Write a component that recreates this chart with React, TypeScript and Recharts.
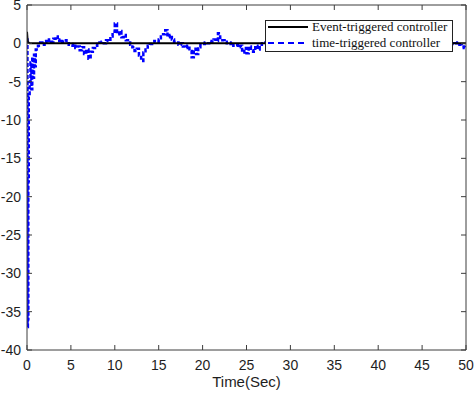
import React from 'react';
import { LineChart, Line, XAxis, YAxis, Legend } from 'recharts';

// time-triggered controller: dense start
const earlyTime = [0, 0.05, 0.1, 0.15, 0.2, 0.3, 0.4, 0.5, 0.6, 0.7, 0.8, 0.9];
const earlyValue = [0.5, -37, -36, -18, -7, -5, -2.5, -6, -1.8, -4.5, -1.5, -3];

// time-triggered controller: quarter-second samples from t = 1 s
const quarterOffsets = [0, 0.25, 0.5, 0.75];
const secondStarts = [
  1, 2, 3, 4, 5, 6, 7, 8, 9, 10, 11, 12, 13, 14, 15, 16, 17, 18, 19, 20, 21, 22, 23, 24, 25,
  26, 27, 28, 29, 30, 31, 32, 33, 34, 35, 36, 37, 38, 39, 40, 41, 42, 43, 44, 45, 46, 47, 48, 49,
];
const timeTriggeredRows = [
  [-0.8, -0.3, 0.1, -0.2],
  [0.3, 0.1, 0.5, 0.2],
  [0.6, 0.9, 0.3, 0.5],
  [0.2, 0.4, 0.0, -0.2],
  [-0.3, -0.1, -0.6, -0.4],
  [-0.9, -0.5, -1.4, -0.8],
  [-2.0, -1.1, -0.6, -0.3],
  [-0.1, 0.1, 0.2, 0.0],
  [0.4, 0.3, 0.9, 1.5],
  [2.6, 1.2, 1.6, 0.8],
  [1.1, 0.4, 0.1, -0.2],
  [-0.5, -1.0, -0.7, -1.6],
  [-2.3, -1.2, -0.8, -0.3],
  [-0.1, 0.1, 0.3, 0.2],
  [0.5, 0.9, 1.2, 1.7],
  [0.8, 1.1, 0.5, 0.2],
  [0.1, -0.2, 0.0, -0.4],
  [-0.6, -0.3, -1.0, -1.8],
  [-0.7, -1.4, -0.5, -0.2],
  [-0.1, 0.1, 0.0, 0.3],
  [0.2, 0.5, 0.3, 1.3],
  [0.7, 0.4, 0.2, 0.0],
  [-0.1, 0.1, -0.3, -0.2],
  [-0.5, -0.3, -1.2, -0.6],
  [-1.3, -0.4, -0.9, -1.1],
  [-0.3, -0.8, -0.2, 0.0],
  [0.1, 0.0, 0.2, 0.0],
  [-0.1, 0.0, 0.1, 0.0],
  [0.0, -0.1, 0.0, 0.1],
  [0.0, 0.1, 0.0, -0.1],
  [0.0, -0.2, 0.0, -0.1],
  [-0.9, -0.1, 0.0, 0.1],
  [0.0, 0.1, -0.1, 0.0],
  [0.1, 0.0, 0.2, 0.0],
  [0.0, -0.1, 0.0, 0.1],
  [0.0, 0.0, -0.1, 0.0],
  [0.1, 0.0, 0.0, -0.2],
  [-0.5, -0.1, 0.0, 0.1],
  [0.0, 0.1, 0.0, -0.1],
  [0.0, 0.0, 0.1, 0.0],
  [-0.1, 0.0, 0.0, 0.1],
  [0.0, -0.1, 0.0, 0.0],
  [0.1, 0.0, -0.1, 0.0],
  [-0.2, 0.0, -0.8, -0.1],
  [0.0, 0.1, 0.0, 0.0],
  [-0.1, 0.0, 0.1, 0.0],
  [0.0, -0.1, 0.0, 0.1],
  [0.0, 0.0, -0.1, 0.0],
  [0.1, -0.2, -0.4, -0.6],
];
const finalTime = [50];
const finalValue = [-0.3];

// event-triggered controller
const eventTime = [0, 0.08, 0.3, 50];
const eventValue = [1.5, 0.2, 0, 0];

const xTicks = [0, 5, 10, 15, 20, 25, 30, 35, 40, 45, 50];
const yTicks = [-40, -35, -30, -25, -20, -15, -10, -5, 0, 5];

const legendLabels = ['Event-triggered controller', 'time-triggered controller'];

const blueData: { t: number; v: number }[] = [];
earlyTime.forEach((t, i) => blueData.push({ t, v: earlyValue[i] }));
secondStarts.forEach((s, r) =>
  quarterOffsets.forEach((o, j) => blueData.push({ t: s + o, v: timeTriggeredRows[r][j] }))
);
finalTime.forEach((t, i) => blueData.push({ t, v: finalValue[i] }));

const eventData = eventTime.map((t, i) => ({ t, v: eventValue[i] }));

const AX = '#3c3c3c';
const TXT = '#1e1e1e';
const SANS = '"Liberation Sans", Arial, sans-serif';
const SERIF = '"Liberation Serif", "Times New Roman", serif';
const BM = 10;
const LM = 6;

function BottomTick(p: any) {
  const { x, y, payload } = p;
  return (
    <g>
      <line x1={x} x2={x} y1={y - BM} y2={y - BM - 5} stroke={AX} />
      <text x={x} y={y} dy="0.71em" textAnchor="middle" fontSize={14} fill={TXT} fontFamily={SANS}>
        {payload.value}
      </text>
    </g>
  );
}

function LeftTick(p: any) {
  const { x, y, payload } = p;
  return (
    <g>
      <line x1={x + LM} x2={x + LM + 5} y1={y} y2={y} stroke={AX} />
      <text x={x} y={y} dy="0.35em" textAnchor="end" fontSize={14} fill={TXT} fontFamily={SANS}>
        {payload.value}
      </text>
    </g>
  );
}

function TopTick(p: any) {
  const { x, y } = p;
  return <line x1={x} x2={x} y1={y} y2={y + 5} stroke={AX} />;
}

function RightTick(p: any) {
  const { x, y } = p;
  return <line x1={x} x2={x - 5} y1={y} y2={y} stroke={AX} />;
}

function LegendBox() {
  return (
    <svg width={188} height={32} style={{ display: 'block' }}>
      <rect x={0.5} y={0.5} width={187} height={31} fill="#fff" stroke="#222" strokeWidth={1} />
      <line x1={3} x2={43} y1={7} y2={7} stroke="#000" strokeWidth={2} />
      <text x={47} y={11} fontSize={13} fontFamily={SERIF} fill="#111">
        {legendLabels[0]}
      </text>
      <line x1={3} x2={43} y1={23} y2={23} stroke="#0000ff" strokeWidth={2} strokeDasharray="6 4" />
      <text x={47} y={27} fontSize={13} fontFamily={SERIF} fill="#111">
        {legendLabels[1]}
      </text>
    </svg>
  );
}

export default function App() {
  return (
    <div style={{ position: 'absolute', left: 0, top: 0, width: 474, height: 393, background: '#fff' }}>
      <LineChart width={474} height={393} margin={{ top: 0, right: 0, bottom: 0, left: 0 }}>
        <XAxis
          xAxisId="bottom"
          dataKey="t"
          type="number"
          domain={[0, 50]}
          ticks={xTicks}
          allowDataOverflow
          height={43}
          tickSize={0}
          tickMargin={BM}
          tickLine={false}
          axisLine={{ stroke: AX }}
          tick={<BottomTick />}
          interval={0}
          label={{
            value: 'Time(Sec)',
            position: 'insideBottom',
            offset: 6,
            fontSize: 15,
            fill: TXT,
            fontFamily: SANS,
          }}
        />
        <XAxis
          xAxisId="top"
          orientation="top"
          dataKey="t"
          type="number"
          domain={[0, 50]}
          ticks={xTicks}
          allowDataOverflow
          height={5}
          tickSize={0}
          tickMargin={0}
          tickLine={false}
          axisLine={{ stroke: AX }}
          tick={<TopTick />}
          interval={0}
        />
        <YAxis
          yAxisId="left"
          type="number"
          domain={[-40, 5]}
          ticks={yTicks}
          allowDataOverflow
          width={27}
          tickSize={0}
          tickMargin={LM}
          tickLine={false}
          axisLine={{ stroke: AX }}
          tick={<LeftTick />}
          interval={0}
        />
        <YAxis
          yAxisId="right"
          orientation="right"
          type="number"
          domain={[-40, 5]}
          ticks={yTicks}
          allowDataOverflow
          width={8}
          tickSize={0}
          tickMargin={0}
          tickLine={false}
          axisLine={{ stroke: AX }}
          tick={<RightTick />}
          interval={0}
        />
        <Legend
          layout="horizontal"
          verticalAlign="middle"
          align="center"
          content={() => <LegendBox />}
          wrapperStyle={{ position: 'absolute', left: 265, top: 20, width: 188, height: 32 }}
        />
        <Line
          xAxisId="bottom"
          yAxisId="left"
          data={blueData}
          dataKey="v"
          name={legendLabels[1]}
          type="stepAfter"
          stroke="#0000ff"
          strokeWidth={2.5}
          strokeDasharray="4 2"
          dot={false}
          isAnimationActive={false}
        />
        <Line
          xAxisId="bottom"
          yAxisId="left"
          data={eventData}
          dataKey="v"
          name={legendLabels[0]}
          type="linear"
          stroke="#000"
          strokeWidth={2}
          dot={false}
          isAnimationActive={false}
        />
      </LineChart>
    </div>
  );
}
